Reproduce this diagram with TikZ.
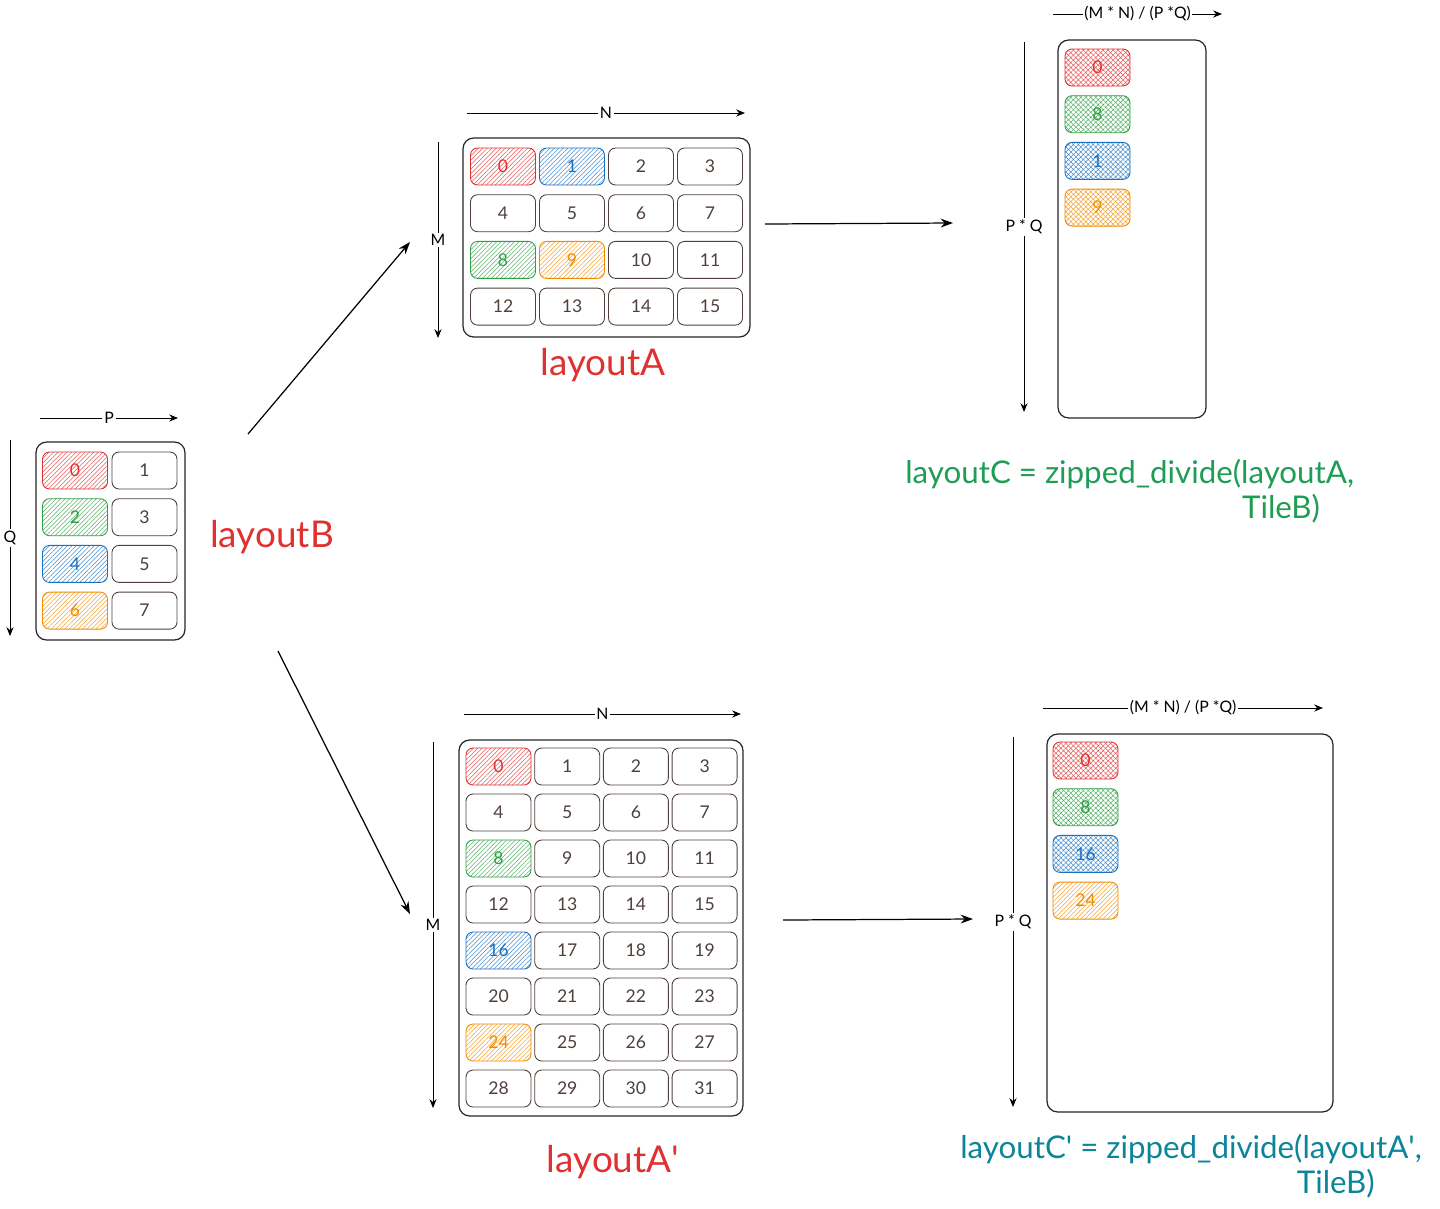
\documentclass[tikz,border=0pt]{standalone}
\usepackage{fontspec}
\setmainfont{Lato}
\usetikzlibrary{arrows.meta,patterns.meta}

\definecolor{xred}{HTML}{E03131}
\definecolor{xgreen}{HTML}{2F9E44}
\definecolor{xblue}{HTML}{1971C2}
\definecolor{xorange}{HTML}{F08C00}
\definecolor{xteal}{HTML}{0C8599}
\definecolor{xtgreen}{HTML}{1F9D55}
\definecolor{xbrown}{HTML}{4E403B}

\begin{document}
\begin{tikzpicture}[
    x = 0.02cm, y = -0.02cm,
    > = {Stealth[length=5pt,width=4pt]},
    cell/.style={draw=xbrown, rounded corners=4pt, line width=0.5pt,
        minimum width=1.3cm, minimum height=0.74cm, inner sep=0pt,
        text=xbrown, font=\fontsize{10}{12}\selectfont},
    hatch/.style={cell, draw=#1, text=#1,
        pattern={Lines[angle=45,distance=1.8pt,line width=0.3pt]}, pattern color=#1!80},
    xhatch/.style={cell, draw=#1, text=#1,
        pattern={Hatch[angle=45,distance=2pt,line width=0.3pt]}, pattern color=#1!80},
    frame/.style={draw=black!85, rounded corners=6pt, line width=0.7pt},
    dim/.style={->, line width=0.5pt},
    dimlabel/.style={fill=white, inner sep=1pt, font=\fontsize{9}{10}\selectfont},
    title/.style={text=xred, font=\fontsize{21}{24}\selectfont},
    flow/.style={-{Stealth[length=7pt,width=5pt]}, line width=0.7pt}
]
    \useasboundingbox (0,0) rectangle (1440,1208);

    % outer frames
    \node[frame, minimum width=2.98cm, minimum height=3.96cm] (boxB) at (110.5,541) {};
    \node[frame, minimum width=5.74cm, minimum height=3.98cm] (boxA) at (606.5,237.5) {};
    \node[frame, minimum width=2.96cm, minimum height=7.56cm] (boxC) at (1132,229) {};
    \node[frame, minimum width=5.68cm, minimum height=7.52cm] (boxAp) at (601,928) {};
    \node[frame, minimum width=5.72cm, minimum height=7.56cm] (boxCp) at (1190,923) {};

    % layoutB
    \foreach \i/\col in {0/xred,2/xgreen,4/xblue,6/xorange}
        \node[hatch=\col] (b\i) at ({75+69.5*mod(\i,2)}, {470.5+46.7*int(\i/2)}) {\i};
    \foreach \i in {1,3,5,7}
        \node[cell] (b\i) at ({75+69.5*mod(\i,2)}, {470.5+46.7*int(\i/2)}) {\i};

    % layoutA
    \foreach \i/\col in {0/xred,1/xblue,8/xgreen,9/xorange}
        \node[hatch=\col] (a\i) at ({503+69*mod(\i,4)}, {166.5+46.7*int(\i/4)}) {\i};
    \foreach \i in {2,3,4,5,6,7,10,11,12,13,14,15}
        \node[cell] (a\i) at ({503+69*mod(\i,4)}, {166.5+46.7*int(\i/4)}) {\i};

    % layoutC
    \foreach \k/\n/\col in {0/0/xred,1/8/xgreen,2/1/xblue,3/9/xorange}
        \node[xhatch=\col] (c\n) at (1097.5, {67.5+46.7*\k}) {\n};

    % layoutA'
    \foreach \i/\col in {0/xred,8/xgreen,16/xblue,24/xorange}
        \node[hatch=\col] (p\i) at ({498.5+68.7*mod(\i,4)}, {766.5+46*int(\i/4)}) {\i};
    \foreach \i in {1,2,3,4,5,6,7,9,10,11,12,13,14,15,17,18,19,20,21,22,23,25,26,27,28,29,30,31}
        \node[cell] (p\i) at ({498.5+68.7*mod(\i,4)}, {766.5+46*int(\i/4)}) {\i};

    % layoutC'
    \foreach \k/\n/\col in {0/0/xred,1/8/xgreen,2/16/xblue}
        \node[xhatch=\col] (q\n) at (1085.5, {760.5+46.7*\k}) {\n};
    \node[hatch=xorange] (q24) at (1085.5, 900.6) {24};

    % dimensions
    \draw[dim] (40,418) -- node[dimlabel] {P} (178,418);
    \draw[dim] (10,440) -- node[dimlabel] {Q} (10,636);
    \draw[dim] (467,113) -- node[dimlabel] {N} (745,113);
    \draw[dim] (438,142) -- node[dimlabel] {M} (438,338);
    \draw[dim] (1053,14) -- node[dimlabel] {(M * N) / (P *Q)} (1222,14);
    \draw[dim] (1024,42) -- node[dimlabel] {P * Q} (1024,412);
    \draw[dim] (464,714) -- node[dimlabel] {N} (741,714);
    \draw[dim] (433,742) -- node[dimlabel] {M} (433,1108);
    \draw[dim] (1043,708) -- node[dimlabel] {(M * N) / (P *Q)} (1323,708);
    \draw[dim] (1013,737) -- node[dimlabel] {P * Q} (1013,1107);

    % flow arrows
    \coordinate (fromB1) at (248,434);
    \coordinate (toA) at (410,242);
    \coordinate (fromB2) at (278,651);
    \coordinate (toAp) at (410,914);
    \coordinate (fromA) at (765,224);
    \coordinate (toC) at (953,223);
    \coordinate (fromAp) at (783,920);
    \coordinate (toCp) at (973,919);
    \draw[flow] (fromB1) -- (toA);
    \draw[flow] (fromB2) -- (toAp);
    \draw[flow] (fromA) -- (toC);
    \draw[flow] (fromAp) -- (toCp);

    % labels
    \node[title] (labB) at (272,537) {layoutB};
    \node[title] (labA) at (603,365) {layoutA};
    \node[title] (labAp) at (613,1162) {layoutA\textquotesingle};
    \node[anchor=north west, align=right, inner sep=0pt, text=xtgreen,
        font=\fontsize{17.8}{20}\selectfont] (labC) at (905,459)
        {layoutC = zipped\_divide(layoutA,\\TileB)\hspace*{0.68cm}};
    \node[anchor=north west, align=right, inner sep=0pt, text=xteal,
        font=\fontsize{17.8}{20}\selectfont] (labCp) at (960,1134)
        {layoutC\textquotesingle{} = zipped\_divide(layoutA\textquotesingle,\\TileB)\hspace*{0.94cm}};
\end{tikzpicture}
\end{document}
